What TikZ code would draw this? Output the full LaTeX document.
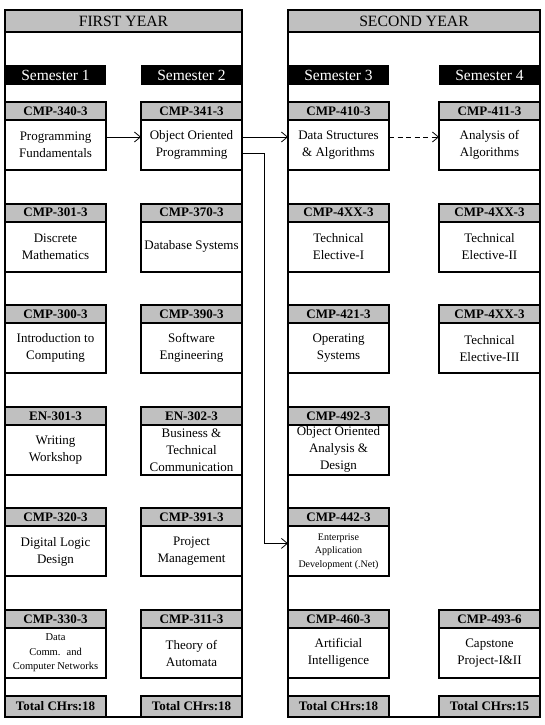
\documentclass[tikz,border=0pt]{standalone}
\usepackage{fontspec}
\setmainfont{Liberation Serif}
\usetikzlibrary{arrows.meta}
\definecolor{hdrgray}{RGB}{192,192,192}
\tikzset{
  yearbox/.style={draw, line width=2pt, outer sep=0pt, inner sep=0pt},
  yearhead/.style={draw, fill=hdrgray, line width=2pt, outer sep=0pt, inner sep=0pt,
    minimum height=22pt, font=\fontsize{15.7}{16}\selectfont},
  sembar/.style={fill=black, text=white, outer sep=0pt, inner sep=0pt,
    minimum width=101pt, minimum height=20pt, font=\fontsize{15.5}{16}\selectfont},
  codebox/.style={draw, fill=hdrgray, line width=2pt, outer sep=0pt, inner sep=0pt,
    minimum width=101pt, minimum height=18pt, font=\bfseries\fontsize{13}{13}\selectfont},
  course/.style={draw, line width=2pt, outer sep=0pt, inner sep=0pt, align=center,
    minimum width=101pt, minimum height=50pt, font=\fontsize{13}{17}\selectfont},
  smallcourse/.style={course, font=\fontsize{10.5}{14.5}\selectfont},
  tinycourse/.style={course, font=\fontsize{10}{13.5}\selectfont},
  totalbox/.style={codebox, minimum height=21pt},
  conn/.style={line width=0.8pt, -{Straight Barb[length=6pt,width=10pt]}}
}
\begin{document}
\begin{tikzpicture}[x=1pt,y=-1pt]
    \useasboundingbox (0,0) rectangle (545,725);

    % Year frames
    \node[yearbox, minimum width=237pt, minimum height=707pt, anchor=north west] (year1) at (5,10) {};
    \node[yearbox, minimum width=252pt, minimum height=707pt, anchor=north west] (year2) at (288,10) {};
    \node[yearhead, minimum width=237pt, anchor=north west] (year1head) at (5,10) {FIRST YEAR};
    \node[yearhead, minimum width=252pt, anchor=north west] (year2head) at (288,10) {SECOND YEAR};

    % Semester bars and totals
    \foreach \x/\s/\h in {5/1/18,141/2/18,288/3/18,439/4/15} {
        \node[sembar, anchor=north west] (sem\s) at (\x,65) {Semester \s};
        \node[totalbox, anchor=north west] (tot\s) at (\x,696) {Total CHrs:\h};
    }

    % Courses
    \foreach \n/\x/\r/\cid/\ctitle/\sty in {
        pf/5/0/CMP-340-3/{Programming\\Fundamentals}/course,
        dm/5/1/CMP-301-3/{Discrete\\Mathematics}/course,
        ic/5/2/CMP-300-3/{Introduction to\\Computing}/course,
        ww/5/3/EN-301-3/{Writing\\Workshop}/course,
        dld/5/4/CMP-320-3/{Digital Logic\\Design}/course,
        dccn/5/5/CMP-330-3/{Data\\Comm.~ and\\Computer Networks}/smallcourse,
        oop/141/0/CMP-341-3/{Object Oriented\\Programming}/course,
        dbs/141/1/CMP-370-3/{Database Systems}/course,
        se/141/2/CMP-390-3/{Software\\Engineering}/course,
        btc/141/3/EN-302-3/{Business \&\\Technical\\Communication}/course,
        pm/141/4/CMP-391-3/{Project\\Management}/course,
        toa/141/5/CMP-311-3/{Theory of\\Automata}/course,
        dsa/288/0/CMP-410-3/{Data Structures\\\& Algorithms}/course,
        te1/288/1/CMP-4XX-3/{Technical\\Elective-I}/course,
        os/288/2/CMP-421-3/{Operating\\Systems}/course,
        ooad/288/3/CMP-492-3/{Object Oriented\\Analysis \&\\Design}/course,
        ead/288/4/CMP-442-3/{Enterprise\\Application\\Development (.Net)}/tinycourse,
        ai/288/5/CMP-460-3/{Artificial\\Intelligence}/course,
        aoa/439/0/CMP-411-3/{Analysis of\\Algorithms}/course,
        te2/439/1/CMP-4XX-3/{Technical\\Elective-II}/course,
        te3/439/2/CMP-4XX-3/{Technical\\Elective-III}/course,
        cap/439/5/CMP-493-6/{Capstone\\Project-I\&II}/course} {
        \node[codebox, anchor=north west] (\n-code) at (\x,102+101.6*\r) {\cid};
        \node[\sty, anchor=north west] (\n) at (\x,120+101.6*\r) {\ctitle};
    }

    % Prerequisites
    \draw[conn] ([yshift=8pt]pf.east) -- ([yshift=8pt]oop.west);
    \draw[conn] ([yshift=8pt]oop.east) -- ([yshift=8pt]dsa.west);
    \draw[conn, dash pattern=on 5pt off 3.5pt] ([yshift=8pt]dsa.east) -- ([yshift=8pt]aoa.west);
    \draw[conn] ([yshift=-8pt]oop.east) -- ++(22,0) |- ([yshift=8pt]ead.west);
\end{tikzpicture}
\end{document}
